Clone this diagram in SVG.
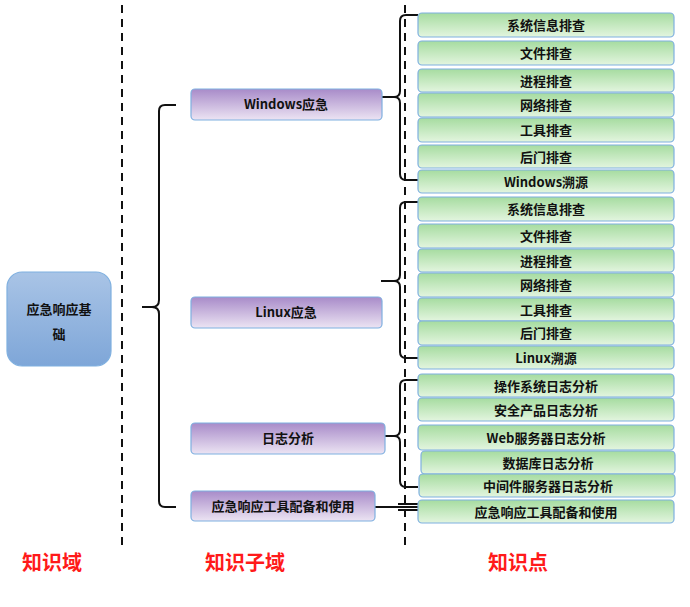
<svg xmlns="http://www.w3.org/2000/svg" width="690" height="607" viewBox="0 0 690 607">
<defs>
<linearGradient id="gg" x1="0" y1="0" x2="0" y2="1"><stop offset="0" stop-color="#a6dca0"/><stop offset="1" stop-color="#e3f5df"/></linearGradient>
<linearGradient id="pg" x1="0" y1="0" x2="0" y2="1"><stop offset="0" stop-color="#a88bc9"/><stop offset="1" stop-color="#ece4f3"/></linearGradient>
<linearGradient id="bg" x1="0" y1="0" x2="0" y2="1"><stop offset="0" stop-color="#a9c4e6"/><stop offset="1" stop-color="#7ea6d8"/></linearGradient>
</defs>
<style>
.g{fill:url(#gg);stroke:#7fb0e0;stroke-width:1.2}
.p{fill:url(#pg);stroke:#7fb0e0;stroke-width:1.2}
text{font-family:"Noto Sans CJK SC","Liberation Serif",serif;font-weight:bold;font-size:13px;text-anchor:middle;fill:#111}
.r{font-size:20px;fill:#ff1a1a}
.c{fill:none;stroke:#111;stroke-width:2}
.d{fill:none;stroke:#111;stroke-width:2;stroke-dasharray:8,6}
</style>
<rect width="690" height="607" fill="#fff"/>
<g id="dividers"><line class="d" x1="122" y1="5" x2="122" y2="545"/><line class="d" x1="405" y1="5" x2="405" y2="545"/></g>
<g id="connectors">
<path class="c" d="M176 105 H165 Q159 105 159 111 V300 Q159 307 152 307 H142 M152 307 Q159 307 159 314 V501 Q159 507 165 507 H176"/>
<path class="c" d="M418 15 H406 Q400 15 400 21 V91 Q400 97 394 97 H382 M394 97 Q400 97 400 103 V174 Q400 180 406 180 H418"/>
<path class="c" d="M418 202 H406 Q400 202 400 208 V275 Q400 281 394 281 H381 M394 281 Q400 281 400 287 V352 Q400 358 406 358 H418"/>
<path class="c" d="M418 380 H406 Q400 380 400 386 V430 Q400 436 394 436 H385 M394 436 Q400 436 400 442 V481 Q400 487 406 487 H418"/>
<path class="c" d="M375 507 H418 M398 504 H418 M398 510 H418"/>
</g>
<g id="root"><rect x="7" y="272" width="104" height="94" rx="15" fill="url(#bg)" stroke="#7fb0e0" stroke-width="1.2"/><text x="59" y="314">应急响应基</text><text x="59" y="339">础</text></g>
<g id="sub-windows"><rect class="p" x="191" y="89" width="191" height="31" rx="4"/><text x="286" y="109">Windows应急</text></g>
<g id="sub-linux"><rect class="p" x="191" y="297" width="191" height="31" rx="4"/><text x="286" y="317">Linux应急</text></g>
<g id="sub-log"><rect class="p" x="191" y="423" width="194" height="31" rx="4"/><text x="288" y="443">日志分析</text></g>
<g id="sub-tool"><rect class="p" x="191" y="491" width="184" height="30" rx="4"/><text x="283" y="511">应急响应工具配备和使用</text></g>
<g id="w1"><rect class="g" x="418" y="13" width="256" height="24" rx="4"/><text x="546" y="30">系统信息排查</text></g>
<g id="w2"><rect class="g" x="418" y="41" width="256" height="24" rx="4"/><text x="546" y="58">文件排查</text></g>
<g id="w3"><rect class="g" x="418" y="69" width="256" height="23" rx="4"/><text x="546" y="86">进程排查</text></g>
<g id="w4"><rect class="g" x="418" y="93" width="256" height="24" rx="4"/><text x="546" y="110">网络排查</text></g>
<g id="w5"><rect class="g" x="418" y="118" width="256" height="24" rx="4"/><text x="546" y="135">工具排查</text></g>
<g id="w6"><rect class="g" x="418" y="145" width="256" height="23" rx="4"/><text x="546" y="162">后门排查</text></g>
<g id="w7"><rect class="g" x="418" y="170" width="256" height="23" rx="4"/><text x="546" y="187">Windows溯源</text></g>
<g id="l1"><rect class="g" x="418" y="197" width="256" height="24" rx="4"/><text x="546" y="214">系统信息排查</text></g>
<g id="l2"><rect class="g" x="418" y="224" width="256" height="24" rx="4"/><text x="546" y="241">文件排查</text></g>
<g id="l3"><rect class="g" x="418" y="249" width="256" height="23" rx="4"/><text x="546" y="266">进程排查</text></g>
<g id="l4"><rect class="g" x="418" y="273" width="256" height="24" rx="4"/><text x="546" y="290">网络排查</text></g>
<g id="l5"><rect class="g" x="418" y="298" width="256" height="23" rx="4"/><text x="546" y="315">工具排查</text></g>
<g id="l6"><rect class="g" x="418" y="321" width="256" height="24" rx="4"/><text x="546" y="338">后门排查</text></g>
<g id="l7"><rect class="g" x="418" y="346" width="256" height="23" rx="4"/><text x="546" y="363">Linux溯源</text></g>
<g id="g1"><rect class="g" x="418" y="374" width="256" height="23" rx="4"/><text x="546" y="391">操作系统日志分析</text></g>
<g id="g2"><rect class="g" x="418" y="398" width="256" height="23" rx="4"/><text x="546" y="415">安全产品日志分析</text></g>
<g id="g3"><rect class="g" x="418" y="425" width="256" height="25" rx="4"/><text x="546" y="443">Web服务器日志分析</text></g>
<g id="g4"><rect class="g" x="421" y="451" width="254" height="23" rx="4"/><text x="548" y="468">数据库日志分析</text></g>
<g id="g5"><rect class="g" x="419" y="474" width="256" height="23" rx="4"/><text x="548" y="491">中间件服务器日志分析</text></g>
<g id="t1"><rect class="g" x="418" y="500" width="256" height="23" rx="4"/><text x="546" y="517">应急响应工具配备和使用</text></g>
<g id="labels"><text class="r" x="52" y="570">知识域</text><text class="r" x="245" y="570">知识子域</text><text class="r" x="518" y="570">知识点</text></g>
</svg>
